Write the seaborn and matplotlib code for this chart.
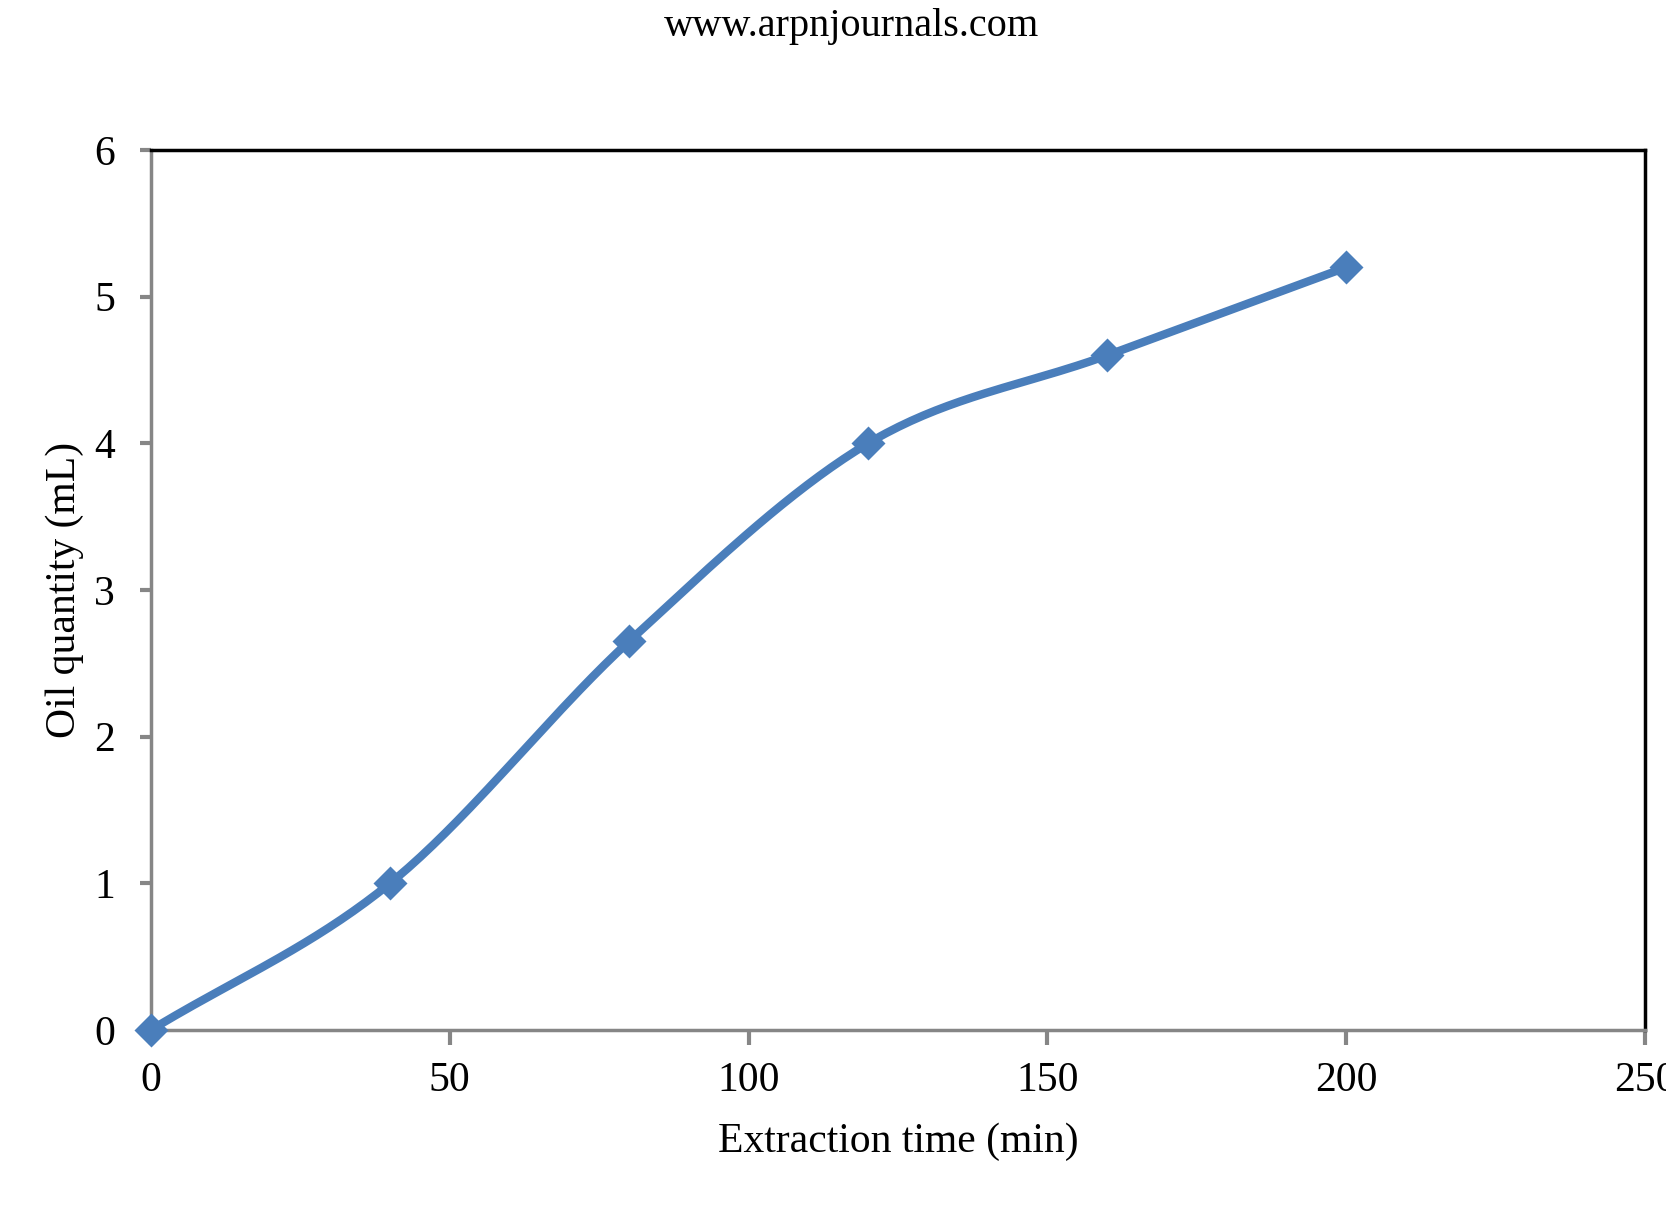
import numpy as np
import pandas as pd
import seaborn as sns
import matplotlib.pyplot as plt

# data
time_min = [0, 40, 80, 120, 160, 200]
oil_ml = [0, 1.0, 2.65, 4.0, 4.6, 5.2]
x_ticks = [0, 50, 100, 150, 200, 250]
y_ticks = [0, 1, 2, 3, 4, 5, 6]

sns.set_style("ticks")
plt.rcParams['font.family'] = ['Liberation Serif', 'DejaVu Serif']
plt.rcParams['text.color'] = 'black'
plt.rcParams['axes.labelcolor'] = 'black'

blue = "#4A7EBB"
grey = "#868686"


def smooth(xs, ys, n=40):
    # Excel-style smoothed line (Catmull-Rom through the points)
    px = np.asarray(xs, float)
    py = np.asarray(ys, float)
    px = np.r_[2 * px[0] - px[1], px, 2 * px[-1] - px[-2]]
    py = np.r_[2 * py[0] - py[1], py, 2 * py[-1] - py[-2]]
    ox, oy = [], []
    t = np.linspace(0, 1, n)
    for i in range(1, len(px) - 2):
        p0, p1, p2, p3 = [np.array([px[j], py[j]]) for j in range(i - 1, i + 3)]
        c1 = p1 + (p2 - p0) / 6
        c2 = p2 - (p3 - p1) / 6
        pts = ((1 - t) ** 3)[:, None] * p1 + (3 * (1 - t) ** 2 * t)[:, None] * c1 \
            + (3 * (1 - t) * t ** 2)[:, None] * c2 + (t ** 3)[:, None] * p2
        ox.extend(pts[:, 0])
        oy.extend(pts[:, 1])
    return ox, oy


df = pd.DataFrame({"time": time_min, "oil": oil_ml})
sx, sy = smooth(time_min, oil_ml)
curve = pd.DataFrame({"time": sx, "oil": sy})

fig = plt.figure(figsize=(16.66, 12.05), dpi=100)
ax = fig.add_axes([0.0906, 0.1452, 0.8968, 0.7303])

sns.lineplot(data=curve, x="time", y="oil", color=blue, linewidth=6, sort=False, ax=ax)
sns.scatterplot(data=df, x="time", y="oil", marker="D", s=300, color=blue,
                edgecolor=blue, linewidth=0, ax=ax, zorder=5, clip_on=False)

ax.set_xlim(0, 250)
ax.set_ylim(0, 6)
ax.set_xticks(x_ticks)
ax.set_yticks(y_ticks)
ax.tick_params(axis="both", labelsize=30, colors="black")
ax.tick_params(axis="x", length=11, width=3, color=grey, pad=12)
ax.tick_params(axis="y", length=8, width=3, color=grey, pad=18)

for side in ["left", "bottom"]:
    ax.spines[side].set_color(grey)
    ax.spines[side].set_linewidth(2.5)
for side in ["top", "right"]:
    ax.spines[side].set_visible(True)
    ax.spines[side].set_color("black")
    ax.spines[side].set_linewidth(2.5)

ax.set_xlabel("Extraction time (min)", fontsize=30, labelpad=16)
ax.set_ylabel("Oil quantity (mL)", fontsize=30, labelpad=7)

fig.text(0.511, 0.9776, "www.arpnjournals.com", ha="center", va="center", fontsize=29)

fig.savefig("out.png", dpi=100)
